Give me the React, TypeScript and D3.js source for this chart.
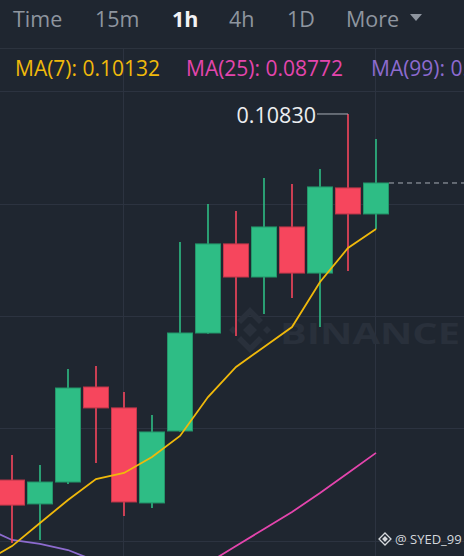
import * as d3 from "d3";

// timeframe tabs
const tabs = ["Time", "15m", "1h", "4h", "1D", "More"];
const activeTab = "1h";

// candles
const opens = [0.08607, 0.08462, 0.08595, 0.09172, 0.09045, 0.08468, 0.08905, 0.095, 0.10041, 0.0984, 0.10144, 0.09864, 0.10381, 0.10223];
const highs = [0.08759, 0.08698, 0.09281, 0.093, 0.09142, 0.09002, 0.10053, 0.10283, 0.10241, 0.10441, 0.10405, 0.10496, 0.1083, 0.10678];
const lows = [0.08225, 0.08243, 0.08583, 0.08711, 0.08389, 0.08437, 0.089, 0.09495, 0.09482, 0.09615, 0.09713, 0.09536, 0.09877, 0.10132];
const closes = [0.08455, 0.08595, 0.09166, 0.09045, 0.08474, 0.08899, 0.095, 0.10041, 0.0984, 0.10144, 0.09864, 0.10387, 0.10223, 0.10411];

// moving averages (first index each one starts at)
const ma7Start = -1;
const ma7 = [0.08109, 0.08206, 0.08346, 0.08486, 0.08613, 0.0865, 0.08747, 0.08875, 0.09111, 0.09294, 0.09415, 0.09536, 0.0981, 0.10016, 0.10132];
const ma25Start = 6;
const ma25 = [0.07998, 0.08103, 0.08206, 0.0831, 0.08413, 0.08528, 0.0865, 0.08772];
const ma99Start = -1;
const ma99 = [0.08322, 0.08243, 0.08219, 0.08182, 0.08115, 0.0805];

const legend = [
  { label: "MA(7): 0.10132", color: "#f0b90b" },
  { label: "MA(25): 0.08772", color: "#e445ad" },
  { label: "MA(99): 0.08236", color: "#8d6bcf" },
];

const gridPrices = [0.1097, 0.10283, 0.09603, 0.08923, 0.08237];
const gridIndexes = [4, 13];
const highLabel = "0.10830";

const width = 464;
const height = 556;
const bg = "#1f2630";
const gridColor = "#2c3340";
const up = "#2ebd85";
const down = "#f6465d";
const font = "'Open Sans', sans-serif";

export default function App() {
  const x = d3.scaleLinear().domain([0, 13]).range([12, 376]);
  const y = d3.scaleLinear().domain([0.08, 0.11]).range([580, 86]);
  const bodyW = 26;

  const maLine = (vals: number[], start: number) =>
    d3.line<number>()
      .x((_, i) => x(i + start))
      .y((d) => y(d))(vals) || "";

  const hi = d3.maxIndex(highs);
  const last = closes.length - 1;
  const tabX = [13, 95, 172, 229, 287, 346];
  const legendX = [15, 186, 371];

  return (
    <svg
      width={width}
      height={height}
      style={{ position: "absolute", left: 0, top: 0, display: "block" }}
    >
      <rect width={width} height={height} fill={bg} />

      {/* tabs */}
      {tabs.map((t, i) => (
        <text
          key={t}
          x={tabX[i]}
          y={27}
          fontFamily={font}
          fontSize={21.5}
          fontWeight={t === activeTab ? 700 : 400}
          fill={t === activeTab ? "#f2f3f5" : "#8e959f"}
        >
          {t}
        </text>
      ))}
      <path d="M410,14 L422,14 L416,21 Z" fill="#8e959f" />
      <line x1={0} x2={width} y1={48.5} y2={48.5} stroke="#2c333e" />

      {/* grid */}
      {gridPrices.map((p) => (
        <line key={p} x1={0} x2={width} y1={Math.round(y(p)) + 0.5} y2={Math.round(y(p)) + 0.5} stroke={gridColor} />
      ))}
      {gridIndexes.map((i) => (
        <line key={i} x1={Math.round(x(i)) - 0.5} x2={Math.round(x(i)) - 0.5} y1={49} y2={height} stroke={gridColor} />
      ))}

      {/* legend */}
      {legend.map((l, i) => (
        <text key={l.label} x={legendX[i]} y={76} fontFamily={font} fontSize={21} fill={l.color}>
          {l.label}
        </text>
      ))}

      {/* watermark */}
      <g fill="#29303b">
        <g transform="translate(250,330)">
          <path d="M0,-7 L7,0 L0,7 L-7,0 Z" />
          <path d="M-17,-4 L-13,0 L-17,4 L-21,0 Z" />
          <path d="M17,-4 L21,0 L17,4 L13,0 Z" />
          <path d="M0,-23 L13,-10 L9,-6 L0,-15 L-9,-6 L-13,-10 Z" />
          <path d="M0,23 L13,10 L9,6 L0,15 L-9,6 L-13,10 Z" />
        </g>
        <text
          x={280}
          y={344}
          fontFamily={font}
          fontWeight={700}
          fontSize={29}
          textLength={180}
          lengthAdjust="spacingAndGlyphs"
        >
          BINANCE
        </text>
      </g>

      {/* moving averages */}
      <path d={maLine(ma99, ma99Start)} fill="none" stroke="#8d6bcf" strokeWidth={1.8} />
      <path d={maLine(ma25, ma25Start)} fill="none" stroke="#e445ad" strokeWidth={1.8} />

      {/* candles */}
      {opens.map((o, i) => {
        const c = closes[i];
        const isUp = c >= o;
        const col = isUp ? up : down;
        const top = y(Math.max(o, c));
        const bot = y(Math.min(o, c));
        return (
          <g key={i}>
            <line x1={x(i)} x2={x(i)} y1={y(highs[i])} y2={y(lows[i])} stroke={col} strokeWidth={1.6} />
            <rect
              x={x(i) - bodyW / 2 + 0.5}
              y={top}
              width={bodyW - 1}
              height={Math.max(1, bot - top)}
              fill={col}
              stroke={isUp ? "#23966a" : "#c2374a"}
              strokeWidth={1}
            />
          </g>
        );
      })}

      <path d={maLine(ma7, ma7Start)} fill="none" stroke="#f0b90b" strokeWidth={1.8} />

      {/* last price line */}
      <line
        x1={x(last) + bodyW / 2}
        x2={width}
        y1={y(closes[last])}
        y2={y(closes[last])}
        stroke="#a7adb5"
        strokeDasharray="5 4"
      />

      {/* high marker */}
      <line x1={317} x2={x(hi)} y1={y(highs[hi])} y2={y(highs[hi])} stroke="#a7adb5" />
      <text x={316} y={123} textAnchor="end" fontFamily={font} fontSize={21.5} fill="#eceef1">
        {highLabel}
      </text>

      {/* credit */}
      <g transform="translate(385,539)" fill="none" stroke="#d5d8dc" strokeWidth={1.3}>
        <path d="M0,-6 L6,0 L0,6 L-6,0 Z" />
        <path d="M0,-2 L2,0 L0,2 L-2,0 Z" fill="#d5d8dc" />
      </g>
      <text x={395} y={544} fontFamily={font} fontSize={13} fill="#d5d8dc">
        @ SYED_99
      </text>
    </svg>
  );
}
